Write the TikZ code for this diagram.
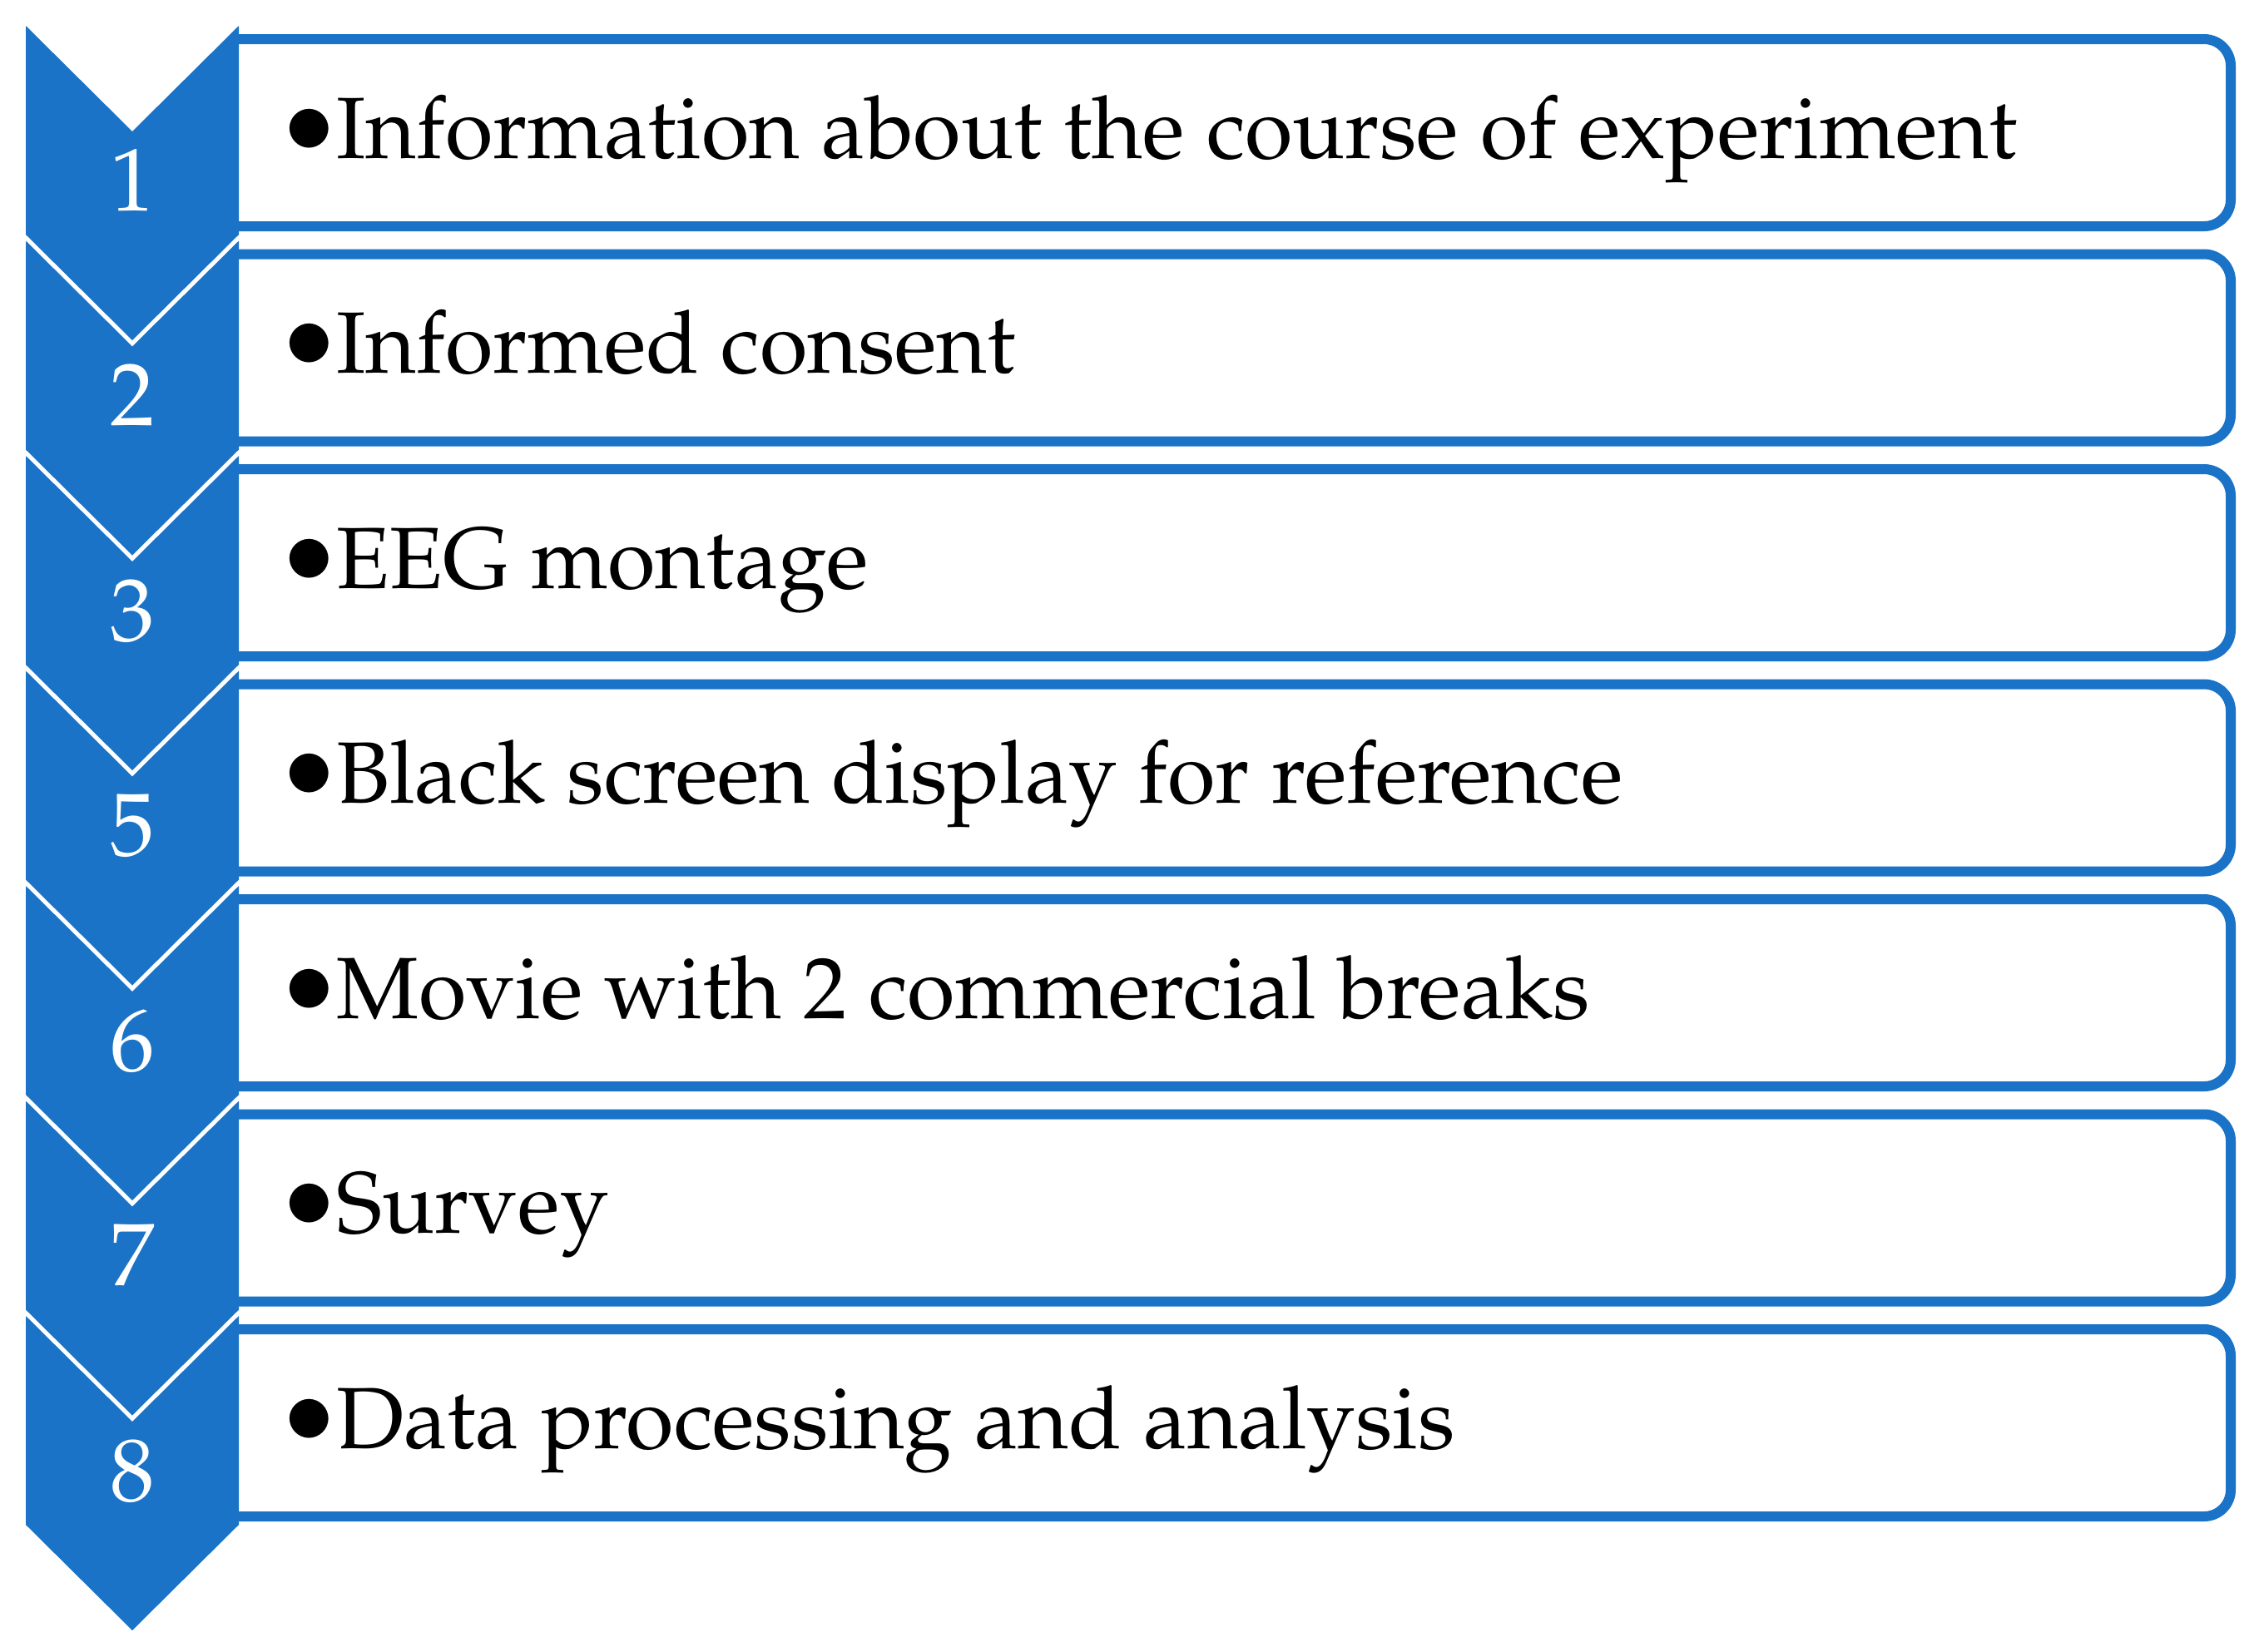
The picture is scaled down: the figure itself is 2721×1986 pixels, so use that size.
\documentclass[tikz,border=0pt]{standalone}
\usepackage[T1]{fontenc}
\usepackage{mathpazo}
\usepackage{graphicx}
\definecolor{chevblue}{RGB}{26,115,198}
\tikzset{
  chevfill/.style={fill=chevblue},
  stepbox/.style={draw=chevblue, line width=1.2mm, rounded corners=3.2mm},
  steptext/.style={anchor=base west, inner sep=0pt, font=\fontsize{29.8}{36}\selectfont},
  stepnum/.style={anchor=base, inner sep=0pt, text=white, font=\fontsize{30.4}{36}\selectfont}
}
\newcommand{\stepchevron}[1]{\fill[chevfill] (31,#1) -- ++(128,127) -- ++(128,-127) -- ++(0,251) -- ++(-128,127) -- ++(-128,-127) -- cycle;}
\newcommand{\bigbul}{\raisebox{-1.1mm}{\scalebox{1.3}{\textbullet}}\kern-0.9mm}

\begin{document}
\begin{tikzpicture}[x=0.1mm,y=-0.1mm]
\useasboundingbox (0,0) rectangle (2721,1986);
% boxes
\draw[stepbox] (287,47) -- (2681,47) -- (2681,272) -- (287,272);
\draw[stepbox] (287,305.5) -- (2681,305.5) -- (2681,530.5) -- (287,530.5);
\draw[stepbox] (287,564) -- (2681,564) -- (2681,789) -- (287,789);
\draw[stepbox] (287,822.5) -- (2681,822.5) -- (2681,1047.5) -- (287,1047.5);
\draw[stepbox] (287,1081) -- (2681,1081) -- (2681,1306) -- (287,1306);
\draw[stepbox] (287,1339.5) -- (2681,1339.5) -- (2681,1564.5) -- (287,1564.5);
\draw[stepbox] (287,1598) -- (2681,1598) -- (2681,1823) -- (287,1823);
% chevrons
\stepchevron{31}
\stepchevron{289.5}
\stepchevron{548}
\stepchevron{806.5}
\stepchevron{1065}
\stepchevron{1323.5}
\stepchevron{1582}
% numbers
\node[stepnum] (n1) at (159,253) {1};
\node[stepnum] (n2) at (159,511.5) {2};
\node[stepnum] (n3) at (159,770) {3};
\node[stepnum] (n5) at (159,1028.5) {5};
\node[stepnum] (n6) at (159,1287) {6};
\node[stepnum] (n7) at (159,1545.5) {7};
\node[stepnum] (n8) at (159,1804) {8};
% texts
\node[steptext] (info) at (330,190) {\bigbul Information about the course of experiment};
\node[steptext] (consent) at (330,448.5) {\bigbul Informed consent};
\node[steptext] (eeg) at (330,707) {\bigbul EEG montage};
\node[steptext] (black) at (330,965.5) {\bigbul Black screen display for reference};
\node[steptext] (movie) at (330,1224) {\bigbul Movie with 2 commercial breaks};
\node[steptext] (survey) at (330,1482.5) {\bigbul Survey};
\node[steptext] (data) at (330,1741) {\bigbul Data processing and analysis};
\end{tikzpicture}
\end{document}
